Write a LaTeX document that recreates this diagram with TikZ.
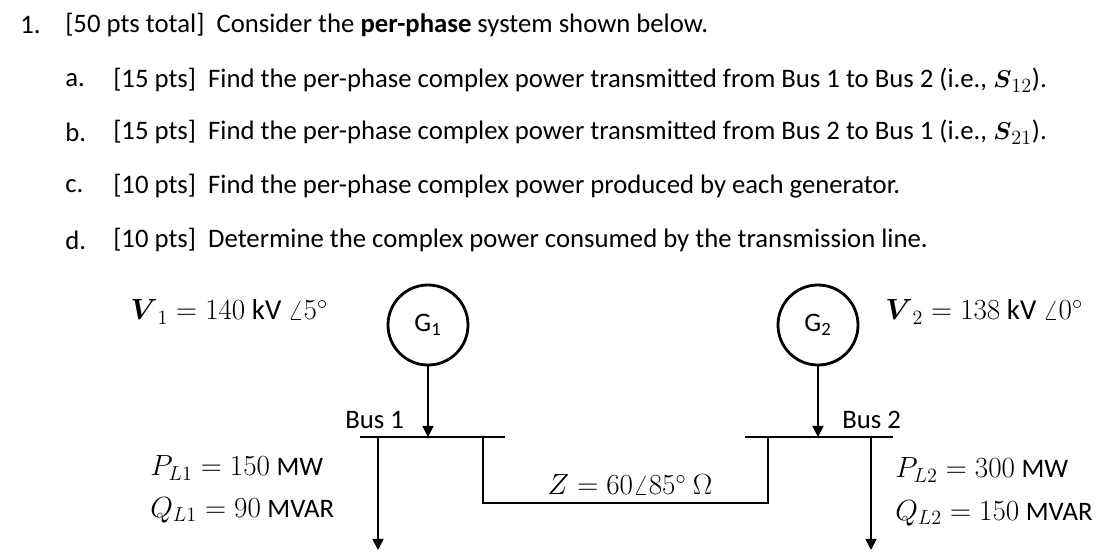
\documentclass[tikz,border=0pt]{standalone}
\usepackage{amsmath}
\usepackage{fontspec}
\setmainfont{Carlito}
\usetikzlibrary{positioning,arrows.meta}
\newcommand{\angsym}{\angle}
\tikzset{
  txt/.style={anchor=west, inner sep=0pt, font=\fontsize{19}{22}\selectfont},
  mth/.style={anchor=west, inner sep=0pt, font=\fontsize{20.5}{24}\selectfont},
  gen/.style={draw, circle, line width=2pt, minimum size=2.0cm, font=\fontsize{19}{22}\selectfont},
  bus/.style={line width=2pt},
  feed/.style={line width=1.2pt, -{Triangle[length=8pt,width=8pt]}},
  wire/.style={line width=1.2pt}
}
\begin{document}
\begin{tikzpicture}[x=0.025cm, y=-0.025cm]
        \useasboundingbox (0,0) rectangle (1120,560);
        % Questions
        \node[txt] (q1) at (20,25) {1.};
        \node[txt] (q1t) at (65,25) {[50 pts total]\ \ Consider the \textbf{per-phase} system shown below.};
        \node[txt] (qa) at (65,80) {a.};
        \node[txt] (qat) at (113,80) {[15 pts]\ \ Find the per-phase complex power transmitted from Bus 1 to Bus 2 (i.e., $\boldsymbol{S}_{12}$).};
        \node[txt] (qb) at (65,132) {b.};
        \node[txt] (qbt) at (113,132) {[15 pts]\ \ Find the per-phase complex power transmitted from Bus 2 to Bus 1 (i.e., $\boldsymbol{S}_{21}$).};
        \node[txt] (qc) at (65,186) {c.};
        \node[txt] (qct) at (113,186) {[10 pts]\ \ Find the per-phase complex power produced by each generator.};
        \node[txt] (qd) at (65,240) {d.};
        \node[txt] (qdt) at (113,240) {[10 pts]\ \ Determine the complex power consumed by the transmission line.};

        % Generators
        \node[gen] (g1) at (428,325) {G\textsubscript{1}};
        \node[gen] (g2) at (818,325) {G\textsubscript{2}};
        \node[mth] (v1) at (130,312) {$\boldsymbol{V}_1 = 140\ \mathrm{kV}\ \angsym 5^\circ$};
        \node[mth] (v2) at (885,312) {$\boldsymbol{V}_2 = 138\ \mathrm{kV}\ \angsym 0^\circ$};

        % Buses
        \coordinate (b1l) at (360,437);
        \coordinate (b1r) at (505,437);
        \coordinate (b2l) at (745,437);
        \coordinate (b2r) at (893,437);
        \draw[bus] (b1l) -- (b1r);
        \draw[bus] (b2l) -- (b2r);
        \node[txt] (bus1) at (345,420) {Bus 1};
        \node[txt] (bus2) at (842,420) {Bus 2};
        \coordinate (b1g) at (428,437);
        \coordinate (b2g) at (818,437);
        \draw[feed] (g1) -- (b1g);
        \draw[feed] (g2) -- (b2g);

        % Loads
        \coordinate (l1t) at (378,437);
        \coordinate (l1b) at (378,550);
        \coordinate (l2t) at (871,437);
        \coordinate (l2b) at (871,550);
        \draw[feed] (l1t) -- (l1b);
        \draw[feed] (l2t) -- (l2b);
        \node[mth] (p1) at (150,468) {$P_{L1} = 150$ \fontsize{19}{22}\selectfont MW};
        \node[mth] (q1l) at (150,510) {$Q_{L1} = 90$ \fontsize{19}{22}\selectfont MVAR};
        \node[mth] (p2) at (895,470) {$P_{L2} = 300$ \fontsize{19}{22}\selectfont MW};
        \node[mth] (q2l) at (895,513) {$Q_{L2} = 150$ \fontsize{19}{22}\selectfont MVAR};

        % Line
        \coordinate (t1) at (483,437);
        \coordinate (t2) at (768,437);
        \draw[wire] (t1) |- (625,503) -| (t2);
        \node[mth, anchor=center] (z) at (630,485) {$Z = 60\angsym 85^\circ\ \Omega$};
\end{tikzpicture}
\end{document}
